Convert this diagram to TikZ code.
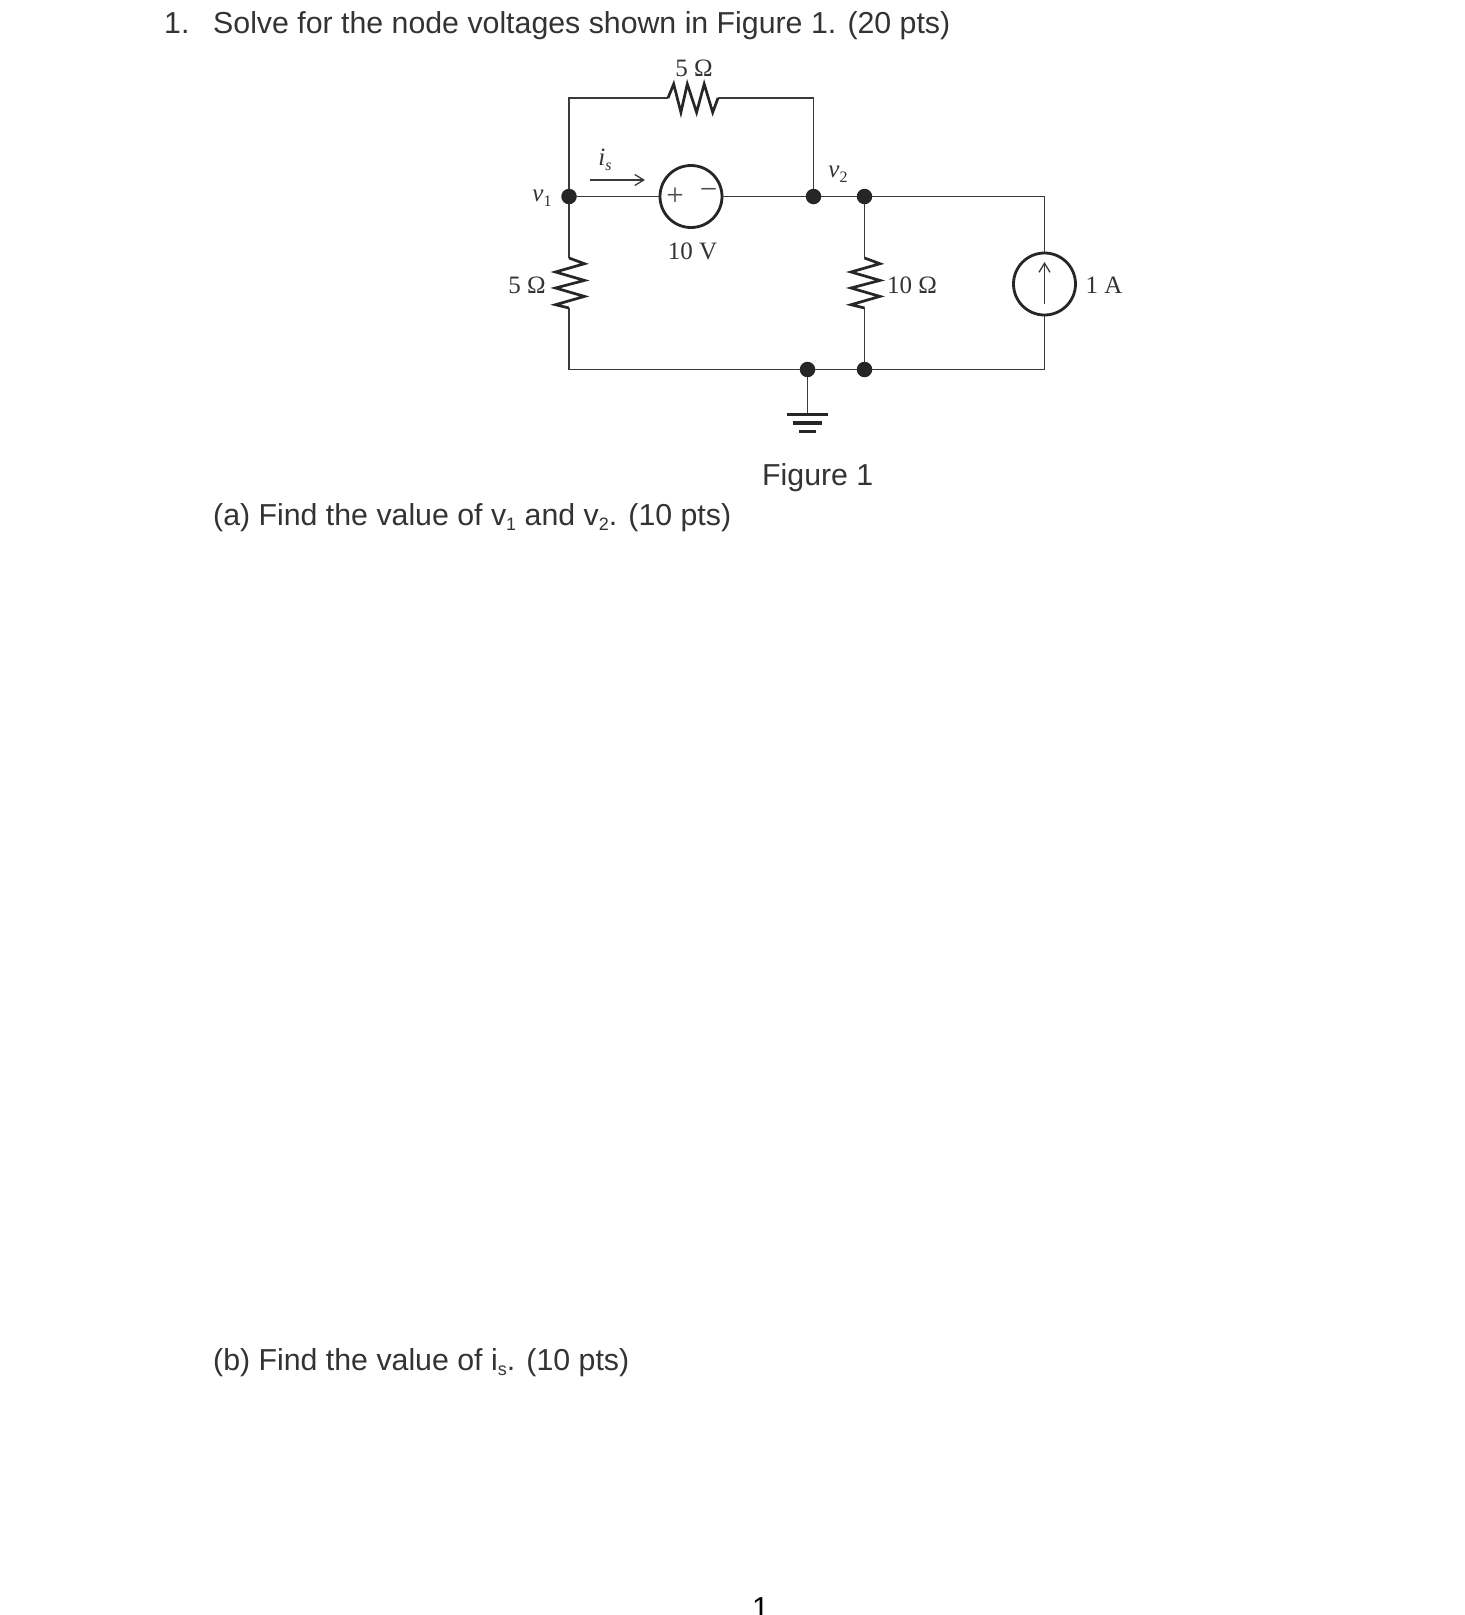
\documentclass[tikz,border=0pt]{standalone}
\usepackage{fontspec}
\setmainfont{Liberation Sans}
\newfontfamily\circfont{Liberation Serif}
\newcommand{\lowtxt}[1]{\raisebox{-0.17em}{\fontsize{18}{20}\selectfont #1}}
\newcommand{\lowcirc}[1]{\raisebox{-0.2em}{\fontsize{16}{18}\selectfont #1}}
\definecolor{wirecol}{HTML}{3A3A3A}
\definecolor{txtcol}{HTML}{333333}
\usetikzlibrary{arrows.meta}
\tikzset{
  wire/.style={draw=wirecol,line width=1.8pt,line join=miter},
  reswire/.style={draw=black!85,line width=2.7pt,line join=miter},
  gndbar/.style={draw=black!85,line width=3.2pt},
  dotnode/.style={circle,fill=black!85,draw=none,minimum size=15.5pt,inner sep=0pt},
  srcnode/.style={circle,draw=black!85,line width=2.8pt,fill=white,minimum size=62pt,inner sep=0pt},
  qtext/.style={anchor=base west,inner sep=0pt,text=txtcol,font=\fontsize{30.3}{36}\selectfont},
  ctext/.style={inner sep=0pt,text=black!80,font=\circfont\fontsize{25}{30}\selectfont},
  signtext/.style={inner sep=0pt,text=black!70,font=\circfont\fontsize{31}{32}\selectfont},
  thintip/.style={-{Straight Barb[length=9pt,width=11pt,line width=1.3pt]}}
}
\begin{document}
\begin{tikzpicture}[x=1pt,y=-1pt]
\useasboundingbox (0,0) rectangle (1465,1615);
\fill[white] (0,0) rectangle (1465,1615);
% question text
\node[qtext] (qnum) at (164,33) {1.};
\node[qtext] (qmain) at (213,33) {Solve for the node voltages shown in Figure 1. (20 pts)};
\node[qtext] (figcap) at (762,485) {Figure 1};
\node[qtext] (parta) at (213,525) {(a) Find the value of v\lowtxt{1} and v\lowtxt{2}. (10 pts)};
\node[qtext] (partb) at (213,1370) {(b) Find the value of i\lowtxt{s}. (10 pts)};
\node[qtext,text=black] (pagenum) at (752,1618) {1};
% circuit nodes
\coordinate (tl) at (569,98);
\coordinate (tr) at (813.5,98);
\coordinate (bl) at (569,369.5);
\coordinate (br) at (1044.5,369.5);
\coordinate (rr) at (1044.5,196);
\coordinate (rtopa) at (668,98);
\coordinate (rtopb) at (718,98);
\coordinate (rlefta) at (569,258);
\coordinate (rleftb) at (569,308);
\coordinate (rrighta) at (864.5,258);
\coordinate (rrightb) at (864.5,308);
\coordinate (gndtop) at (807.5,414.5);
\node[srcnode] (vs) at (691,196.5) {};
\node[srcnode] (is) at (1044.5,284) {};
\node[dotnode] (n1) at (569,196.5) {};
\node[dotnode] (n2) at (813.5,196.5) {};
\node[dotnode] (n3) at (864.5,196.5) {};
\node[dotnode] (n4) at (807.5,369.5) {};
\node[dotnode] (n5) at (864.5,369.5) {};
% wires
\draw[wire] (n1) -- (tl) -- (rtopa);
\draw[wire] (rtopb) -- (tr) -- (n2);
\draw[wire] (n1) -- (vs);
\draw[wire] (vs) -- (n2);
\draw[wire] (n2) -- (n3);
\draw[wire] (n3) -| (is);
\draw[wire] (is) |- (n5);
\draw[wire] (n5) -- (n4);
\draw[wire] (n4) -- (bl) -- (rleftb);
\draw[wire] (rlefta) -- (n1);
\draw[wire] (n3) -- (rrighta);
\draw[wire] (rrightb) -- (n5);
\draw[wire] (n4) -- (gndtop);
% resistors
\draw[reswire] (rtopa) -- ++(5.7,-14) -- ++(7.2,28.4) -- ++(6.4,-28.4) -- ++(9.3,28.4) -- ++(7.6,-28.4) -- ++(8.5,28.4) -- (rtopb);
\draw[reswire] (rlefta) -- ++(15.5,5.7) -- ++(-29,8.3) -- ++(29,8.4) -- ++(-29,7.6) -- ++(29,8.4) -- ++(-29,8.3) -- (rleftb);
\draw[reswire] (rrighta) -- ++(15.5,5.7) -- ++(-29,8.3) -- ++(29,8.4) -- ++(-29,7.6) -- ++(29,8.4) -- ++(-29,8.3) -- (rrightb);
% ground
\draw[gndbar] (gndtop) ++(-20.5,0) -- ++(41,0);
\draw[gndbar] (gndtop) ++(-14.5,8.5) -- ++(29,0);
\draw[gndbar] (gndtop) ++(-8.5,17) -- ++(17,0);
% arrows
\coordinate (arra) at (590,180);
\coordinate (arrb) at (645,180);
\draw[wire,thintip] (arra) -- (arrb);
\coordinate (ia) at (1044.5,304);
\coordinate (ib) at (1044.5,262);
\draw[wire,thintip] (ia) -- (ib);
% source signs and labels
\node[signtext] (plus) at (675,197) {+};
\node[signtext] (minus) at (708.5,194) {\textminus};
\node[ctext] (lr1) at (694,68) {5 Ω};
\node[ctext] (lv) at (692.5,251) {10 V};
\node[ctext] (lr2) at (527,285.5) {5 Ω};
\node[ctext] (lr3) at (912,285.5) {10 Ω};
\node[ctext] (la) at (1104,285.5) {1 A};
\node[ctext] (lv1) at (542,198) {\itshape v\lowcirc{\upshape 1}};
\node[ctext] (lv2) at (838,174) {\itshape v\lowcirc{\upshape 2}};
\node[ctext] (lis) at (605,160) {\itshape i\lowcirc{\itshape s}};
\end{tikzpicture}
\end{document}
